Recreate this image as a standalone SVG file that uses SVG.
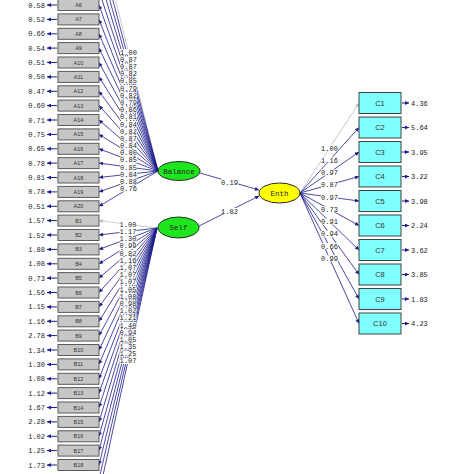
<svg xmlns="http://www.w3.org/2000/svg" width="474" height="474" viewBox="0 0 474 474">
<style>
.ob{fill:#c6c6c6;stroke:#5a5a5a;stroke-width:1}
.cb{fill:#80ffff;stroke:#404040;stroke-width:1}
.bl{font-family:"Liberation Sans",sans-serif;font-size:5.5px;fill:#333;text-anchor:middle}
.cl{font-family:"Liberation Sans",sans-serif;font-size:7.5px;fill:#333;text-anchor:middle}
.num{font-family:"Liberation Mono",monospace;font-size:7px;fill:#222}
.lat{font-family:"Liberation Mono",monospace;font-size:7.5px;fill:#222;text-anchor:middle}
.ln{stroke:#1c1c8c;stroke-width:0.8;fill:none;marker-end:url(#ah)}
.fx{stroke:#bdbdbd;stroke-width:0.8;fill:none;marker-end:url(#ahg)}
.er{stroke:#1c1c8c;stroke-width:1;fill:none;marker-end:url(#ah)}
.lb text{font-family:"Liberation Mono",monospace;font-size:7px;fill:#222;text-anchor:middle}
.lb rect{fill:#fff}
.ev{text-anchor:end}
</style>
<defs>
<marker id="ah" viewBox="0 0 10 10" refX="10" refY="5" markerWidth="5" markerHeight="4" markerUnits="userSpaceOnUse" orient="auto"><path d="M0,0 L10,5 L0,10 z" fill="#1c1c8c"/></marker>
<marker id="ahg" viewBox="0 0 10 10" refX="10" refY="5" markerWidth="5" markerHeight="4" markerUnits="userSpaceOnUse" orient="auto"><path d="M0,0 L10,5 L0,10 z" fill="#bdbdbd"/></marker>
</defs>
<rect width="474" height="474" fill="#fff"/>
<g id="connectors">
<line class="fx" x1="158" y1="171" x2="99" y2="-66.9"/>
<line class="ln" x1="158" y1="171" x2="99" y2="-52.5"/>
<line class="ln" x1="158" y1="171" x2="99" y2="-38.1"/>
<line class="ln" x1="158" y1="171" x2="99" y2="-23.8"/>
<line class="ln" x1="158" y1="171" x2="99" y2="-9.4"/>
<line class="ln" x1="158" y1="171" x2="99" y2="5"/>
<line class="ln" x1="158" y1="171" x2="99" y2="19.4"/>
<line class="ln" x1="158" y1="171" x2="99" y2="33.8"/>
<line class="ln" x1="158" y1="171" x2="99" y2="48.1"/>
<line class="ln" x1="158" y1="171" x2="99" y2="62.5"/>
<line class="ln" x1="158" y1="171" x2="99" y2="76.9"/>
<line class="ln" x1="158" y1="171" x2="99" y2="91.3"/>
<line class="ln" x1="158" y1="171" x2="99" y2="105.6"/>
<line class="ln" x1="158" y1="171" x2="99" y2="120"/>
<line class="ln" x1="158" y1="171" x2="99" y2="134.4"/>
<line class="ln" x1="158" y1="171" x2="99" y2="148.8"/>
<line class="ln" x1="158" y1="171" x2="99" y2="163.1"/>
<line class="ln" x1="158" y1="171" x2="99" y2="177.5"/>
<line class="ln" x1="158" y1="171" x2="99" y2="191.9"/>
<line class="ln" x1="158" y1="171" x2="99" y2="206.3"/>
<line class="fx" x1="157" y1="228" x2="99" y2="220.6"/>
<line class="ln" x1="157" y1="228" x2="99" y2="235"/>
<line class="ln" x1="157" y1="228" x2="99" y2="249.4"/>
<line class="ln" x1="157" y1="228" x2="99" y2="263.8"/>
<line class="ln" x1="157" y1="228" x2="99" y2="278.1"/>
<line class="ln" x1="157" y1="228" x2="99" y2="292.5"/>
<line class="ln" x1="157" y1="228" x2="99" y2="306.9"/>
<line class="ln" x1="157" y1="228" x2="99" y2="321.3"/>
<line class="ln" x1="157" y1="228" x2="99" y2="335.6"/>
<line class="ln" x1="157" y1="228" x2="99" y2="350"/>
<line class="ln" x1="157" y1="228" x2="99" y2="364.4"/>
<line class="ln" x1="157" y1="228" x2="99" y2="378.8"/>
<line class="ln" x1="157" y1="228" x2="99" y2="393.1"/>
<line class="ln" x1="157" y1="228" x2="99" y2="407.5"/>
<line class="ln" x1="157" y1="228" x2="99" y2="421.9"/>
<line class="ln" x1="157" y1="228" x2="99" y2="436.3"/>
<line class="ln" x1="157" y1="228" x2="99" y2="450.6"/>
<line class="ln" x1="157" y1="228" x2="99" y2="465"/>
<line class="ln" x1="157" y1="228" x2="99" y2="479.4"/>
<line class="ln" x1="157" y1="228" x2="99" y2="493.8"/>
<line class="ln" x1="200" y1="173" x2="259" y2="190"/>
<line class="ln" x1="199" y1="226" x2="259" y2="196"/>
<line class="fx" x1="300" y1="193" x2="359" y2="103"/>
<line class="ln" x1="300" y1="193" x2="359" y2="127.5"/>
<line class="ln" x1="300" y1="193" x2="359" y2="152"/>
<line class="ln" x1="300" y1="193" x2="359" y2="176.5"/>
<line class="ln" x1="300" y1="193" x2="359" y2="201"/>
<line class="ln" x1="300" y1="193" x2="359" y2="225.5"/>
<line class="ln" x1="300" y1="193" x2="359" y2="250"/>
<line class="ln" x1="300" y1="193" x2="359" y2="274.5"/>
<line class="ln" x1="300" y1="193" x2="359" y2="299"/>
<line class="ln" x1="300" y1="193" x2="359" y2="323.5"/>
<g id="error-arrows">
<line class="er" x1="57" y1="5" x2="47" y2="5"/>
<line class="er" x1="57" y1="19.4" x2="47" y2="19.4"/>
<line class="er" x1="57" y1="33.8" x2="47" y2="33.8"/>
<line class="er" x1="57" y1="48.1" x2="47" y2="48.1"/>
<line class="er" x1="57" y1="62.5" x2="47" y2="62.5"/>
<line class="er" x1="57" y1="76.9" x2="47" y2="76.9"/>
<line class="er" x1="57" y1="91.3" x2="47" y2="91.3"/>
<line class="er" x1="57" y1="105.6" x2="47" y2="105.6"/>
<line class="er" x1="57" y1="120" x2="47" y2="120"/>
<line class="er" x1="57" y1="134.4" x2="47" y2="134.4"/>
<line class="er" x1="57" y1="148.8" x2="47" y2="148.8"/>
<line class="er" x1="57" y1="163.1" x2="47" y2="163.1"/>
<line class="er" x1="57" y1="177.5" x2="47" y2="177.5"/>
<line class="er" x1="57" y1="191.9" x2="47" y2="191.9"/>
<line class="er" x1="57" y1="206.3" x2="47" y2="206.3"/>
<line class="er" x1="57" y1="220.6" x2="47" y2="220.6"/>
<line class="er" x1="57" y1="235" x2="47" y2="235"/>
<line class="er" x1="57" y1="249.4" x2="47" y2="249.4"/>
<line class="er" x1="57" y1="263.8" x2="47" y2="263.8"/>
<line class="er" x1="57" y1="278.1" x2="47" y2="278.1"/>
<line class="er" x1="57" y1="292.5" x2="47" y2="292.5"/>
<line class="er" x1="57" y1="306.9" x2="47" y2="306.9"/>
<line class="er" x1="57" y1="321.3" x2="47" y2="321.3"/>
<line class="er" x1="57" y1="335.6" x2="47" y2="335.6"/>
<line class="er" x1="57" y1="350" x2="47" y2="350"/>
<line class="er" x1="57" y1="364.4" x2="47" y2="364.4"/>
<line class="er" x1="57" y1="378.8" x2="47" y2="378.8"/>
<line class="er" x1="57" y1="393.1" x2="47" y2="393.1"/>
<line class="er" x1="57" y1="407.5" x2="47" y2="407.5"/>
<line class="er" x1="57" y1="421.9" x2="47" y2="421.9"/>
<line class="er" x1="57" y1="436.3" x2="47" y2="436.3"/>
<line class="er" x1="57" y1="450.6" x2="47" y2="450.6"/>
<line class="er" x1="57" y1="465" x2="47" y2="465"/>
<line class="er" x1="402" y1="103" x2="409" y2="103"/>
<line class="er" x1="402" y1="127.5" x2="409" y2="127.5"/>
<line class="er" x1="402" y1="152" x2="409" y2="152"/>
<line class="er" x1="402" y1="176.5" x2="409" y2="176.5"/>
<line class="er" x1="402" y1="201" x2="409" y2="201"/>
<line class="er" x1="402" y1="225.5" x2="409" y2="225.5"/>
<line class="er" x1="402" y1="250" x2="409" y2="250"/>
<line class="er" x1="402" y1="274.5" x2="409" y2="274.5"/>
<line class="er" x1="402" y1="299" x2="409" y2="299"/>
<line class="er" x1="402" y1="323.5" x2="409" y2="323.5"/>
</g>
<g class="lb" id="loading-labels">
<rect x="120" y="49.1" width="17" height="6"/><text x="128.5" y="54.6">1.00</text>
<rect x="120" y="56.3" width="17" height="6"/><text x="128.5" y="61.8">0.87</text>
<rect x="120" y="63.5" width="17" height="6"/><text x="128.5" y="69">0.87</text>
<rect x="120" y="70.6" width="17" height="6"/><text x="128.5" y="76.1">0.82</text>
<rect x="120" y="77.8" width="17" height="6"/><text x="128.5" y="83.3">0.85</text>
<rect x="120" y="85" width="17" height="6"/><text x="128.5" y="90.5">0.79</text>
<rect x="120" y="92.2" width="17" height="6"/><text x="128.5" y="97.7">0.82</text>
<rect x="120" y="99.4" width="17" height="6"/><text x="128.5" y="104.9">0.79</text>
<rect x="120" y="106.6" width="17" height="6"/><text x="128.5" y="112.1">0.86</text>
<rect x="120" y="113.8" width="17" height="6"/><text x="128.5" y="119.3">0.81</text>
<rect x="120" y="121" width="17" height="6"/><text x="128.5" y="126.5">0.84</text>
<rect x="120" y="128.1" width="17" height="6"/><text x="128.5" y="133.6">0.82</text>
<rect x="120" y="135.3" width="17" height="6"/><text x="128.5" y="140.8">0.87</text>
<rect x="120" y="142.5" width="17" height="6"/><text x="128.5" y="148">0.84</text>
<rect x="120" y="149.7" width="17" height="6"/><text x="128.5" y="155.2">0.80</text>
<rect x="120" y="156.9" width="17" height="6"/><text x="128.5" y="162.4">0.85</text>
<rect x="120" y="164.1" width="17" height="6"/><text x="128.5" y="169.6">0.85</text>
<rect x="120" y="171.3" width="17" height="6"/><text x="128.5" y="176.8">0.84</text>
<rect x="120" y="178.5" width="17" height="6"/><text x="128.5" y="184">0.88</text>
<rect x="120" y="185.6" width="17" height="6"/><text x="128.5" y="191.1">0.76</text>
<rect x="119.5" y="221.3" width="17" height="6"/><text x="128" y="226.8">1.00</text>
<rect x="119.5" y="228.5" width="17" height="6"/><text x="128" y="234">1.17</text>
<rect x="119.5" y="235.7" width="17" height="6"/><text x="128" y="241.2">1.30</text>
<rect x="119.5" y="242.9" width="17" height="6"/><text x="128" y="248.4">0.99</text>
<rect x="119.5" y="250.1" width="17" height="6"/><text x="128" y="255.6">0.82</text>
<rect x="119.5" y="257.3" width="17" height="6"/><text x="128" y="262.8">1.16</text>
<rect x="119.5" y="264.5" width="17" height="6"/><text x="128" y="270">1.07</text>
<rect x="119.5" y="271.7" width="17" height="6"/><text x="128" y="277.2">1.07</text>
<rect x="119.5" y="278.8" width="17" height="6"/><text x="128" y="284.3">1.07</text>
<rect x="119.5" y="286" width="17" height="6"/><text x="128" y="291.5">1.05</text>
<rect x="119.5" y="293.2" width="17" height="6"/><text x="128" y="298.7">1.08</text>
<rect x="119.5" y="300.4" width="17" height="6"/><text x="128" y="305.9">0.98</text>
<rect x="119.5" y="307.6" width="17" height="6"/><text x="128" y="313.1">1.02</text>
<rect x="119.5" y="314.8" width="17" height="6"/><text x="128" y="320.3">1.21</text>
<rect x="119.5" y="322" width="17" height="6"/><text x="128" y="327.5">1.40</text>
<rect x="119.5" y="329.2" width="17" height="6"/><text x="128" y="334.7">0.94</text>
<rect x="119.5" y="336.3" width="17" height="6"/><text x="128" y="341.8">1.05</text>
<rect x="119.5" y="343.5" width="17" height="6"/><text x="128" y="349">1.35</text>
<rect x="119.5" y="350.7" width="17" height="6"/><text x="128" y="356.2">1.25</text>
<rect x="119.5" y="357.9" width="17" height="6"/><text x="128" y="363.4">1.07</text>
<rect x="221" y="179" width="17" height="6"/><text x="229.5" y="184.5">0.19</text>
<rect x="221" y="208" width="17" height="6"/><text x="229.5" y="213.5">1.82</text>
<rect x="321" y="145" width="17" height="6"/><text x="329.5" y="150.5">1.00</text>
<rect x="321" y="157.3" width="17" height="6"/><text x="329.5" y="162.8">1.16</text>
<rect x="321" y="169.5" width="17" height="6"/><text x="329.5" y="175">0.97</text>
<rect x="321" y="181.8" width="17" height="6"/><text x="329.5" y="187.3">0.87</text>
<rect x="321" y="194" width="17" height="6"/><text x="329.5" y="199.5">0.97</text>
<rect x="321" y="206.3" width="17" height="6"/><text x="329.5" y="211.8">0.73</text>
<rect x="321" y="218.5" width="17" height="6"/><text x="329.5" y="224">0.91</text>
<rect x="321" y="230.8" width="17" height="6"/><text x="329.5" y="236.3">0.94</text>
<rect x="321" y="243" width="17" height="6"/><text x="329.5" y="248.5">0.66</text>
<rect x="321" y="255.3" width="17" height="6"/><text x="329.5" y="260.8">0.99</text>
</g>
</g>
<g id="A6"><rect class="ob" x="58" y="-0.5" width="41" height="11"/><text class="bl" x="78.5" y="7">A6</text><text class="num ev" x="45" y="7.5">0.58</text></g>
<g id="A7"><rect class="ob" x="58" y="13.9" width="41" height="11"/><text class="bl" x="78.5" y="21.4">A7</text><text class="num ev" x="45" y="21.9">0.52</text></g>
<g id="A8"><rect class="ob" x="58" y="28.3" width="41" height="11"/><text class="bl" x="78.5" y="35.8">A8</text><text class="num ev" x="45" y="36.3">0.66</text></g>
<g id="A9"><rect class="ob" x="58" y="42.6" width="41" height="11"/><text class="bl" x="78.5" y="50.1">A9</text><text class="num ev" x="45" y="50.6">0.54</text></g>
<g id="A10"><rect class="ob" x="58" y="57" width="41" height="11"/><text class="bl" x="78.5" y="64.5">A10</text><text class="num ev" x="45" y="65">0.51</text></g>
<g id="A11"><rect class="ob" x="58" y="71.4" width="41" height="11"/><text class="bl" x="78.5" y="78.9">A11</text><text class="num ev" x="45" y="79.4">0.50</text></g>
<g id="A12"><rect class="ob" x="58" y="85.8" width="41" height="11"/><text class="bl" x="78.5" y="93.3">A12</text><text class="num ev" x="45" y="93.8">0.47</text></g>
<g id="A13"><rect class="ob" x="58" y="100.1" width="41" height="11"/><text class="bl" x="78.5" y="107.6">A13</text><text class="num ev" x="45" y="108.1">0.60</text></g>
<g id="A14"><rect class="ob" x="58" y="114.5" width="41" height="11"/><text class="bl" x="78.5" y="122">A14</text><text class="num ev" x="45" y="122.5">0.71</text></g>
<g id="A15"><rect class="ob" x="58" y="128.9" width="41" height="11"/><text class="bl" x="78.5" y="136.4">A15</text><text class="num ev" x="45" y="136.9">0.75</text></g>
<g id="A16"><rect class="ob" x="58" y="143.3" width="41" height="11"/><text class="bl" x="78.5" y="150.8">A16</text><text class="num ev" x="45" y="151.3">0.65</text></g>
<g id="A17"><rect class="ob" x="58" y="157.6" width="41" height="11"/><text class="bl" x="78.5" y="165.1">A17</text><text class="num ev" x="45" y="165.6">0.78</text></g>
<g id="A18"><rect class="ob" x="58" y="172" width="41" height="11"/><text class="bl" x="78.5" y="179.5">A18</text><text class="num ev" x="45" y="180">0.81</text></g>
<g id="A19"><rect class="ob" x="58" y="186.4" width="41" height="11"/><text class="bl" x="78.5" y="193.9">A19</text><text class="num ev" x="45" y="194.4">0.78</text></g>
<g id="A20"><rect class="ob" x="58" y="200.8" width="41" height="11"/><text class="bl" x="78.5" y="208.3">A20</text><text class="num ev" x="45" y="208.8">0.51</text></g>
<g id="B1"><rect class="ob" x="58" y="215.1" width="41" height="11"/><text class="bl" x="78.5" y="222.6">B1</text><text class="num ev" x="45" y="223.1">1.57</text></g>
<g id="B2"><rect class="ob" x="58" y="229.5" width="41" height="11"/><text class="bl" x="78.5" y="237">B2</text><text class="num ev" x="45" y="237.5">1.52</text></g>
<g id="B3"><rect class="ob" x="58" y="243.9" width="41" height="11"/><text class="bl" x="78.5" y="251.4">B3</text><text class="num ev" x="45" y="251.9">1.88</text></g>
<g id="B4"><rect class="ob" x="58" y="258.3" width="41" height="11"/><text class="bl" x="78.5" y="265.8">B4</text><text class="num ev" x="45" y="266.3">1.08</text></g>
<g id="B5"><rect class="ob" x="58" y="272.6" width="41" height="11"/><text class="bl" x="78.5" y="280.1">B5</text><text class="num ev" x="45" y="280.6">0.73</text></g>
<g id="B6"><rect class="ob" x="58" y="287" width="41" height="11"/><text class="bl" x="78.5" y="294.5">B6</text><text class="num ev" x="45" y="295">1.56</text></g>
<g id="B7"><rect class="ob" x="58" y="301.4" width="41" height="11"/><text class="bl" x="78.5" y="308.9">B7</text><text class="num ev" x="45" y="309.4">1.15</text></g>
<g id="B8"><rect class="ob" x="58" y="315.8" width="41" height="11"/><text class="bl" x="78.5" y="323.3">B8</text><text class="num ev" x="45" y="323.8">1.16</text></g>
<g id="B9"><rect class="ob" x="58" y="330.1" width="41" height="11"/><text class="bl" x="78.5" y="337.6">B9</text><text class="num ev" x="45" y="338.1">2.78</text></g>
<g id="B10"><rect class="ob" x="58" y="344.5" width="41" height="11"/><text class="bl" x="78.5" y="352">B10</text><text class="num ev" x="45" y="352.5">1.34</text></g>
<g id="B11"><rect class="ob" x="58" y="358.9" width="41" height="11"/><text class="bl" x="78.5" y="366.4">B11</text><text class="num ev" x="45" y="366.9">1.30</text></g>
<g id="B12"><rect class="ob" x="58" y="373.3" width="41" height="11"/><text class="bl" x="78.5" y="380.8">B12</text><text class="num ev" x="45" y="381.3">1.08</text></g>
<g id="B13"><rect class="ob" x="58" y="387.6" width="41" height="11"/><text class="bl" x="78.5" y="395.1">B13</text><text class="num ev" x="45" y="395.6">1.12</text></g>
<g id="B14"><rect class="ob" x="58" y="402" width="41" height="11"/><text class="bl" x="78.5" y="409.5">B14</text><text class="num ev" x="45" y="410">1.67</text></g>
<g id="B15"><rect class="ob" x="58" y="416.4" width="41" height="11"/><text class="bl" x="78.5" y="423.9">B15</text><text class="num ev" x="45" y="424.4">2.28</text></g>
<g id="B16"><rect class="ob" x="58" y="430.8" width="41" height="11"/><text class="bl" x="78.5" y="438.3">B16</text><text class="num ev" x="45" y="438.8">1.02</text></g>
<g id="B17"><rect class="ob" x="58" y="445.1" width="41" height="11"/><text class="bl" x="78.5" y="452.6">B17</text><text class="num ev" x="45" y="453.1">1.25</text></g>
<g id="B18"><rect class="ob" x="58" y="459.5" width="41" height="11"/><text class="bl" x="78.5" y="467">B18</text><text class="num ev" x="45" y="467.5">1.73</text></g>
<g id="Balance"><ellipse cx="179" cy="171" rx="21" ry="9.5" fill="#1ee61e" stroke="#2a2a2a" stroke-width="1"/><text class="lat" x="179" y="173.5">Balance</text></g>
<g id="Self"><ellipse cx="178.5" cy="227.5" rx="20.5" ry="10.5" fill="#1ee61e" stroke="#2a2a2a" stroke-width="1"/><text class="lat" x="178.5" y="230">Self</text></g>
<g id="Enth"><ellipse cx="279.5" cy="193" rx="20.5" ry="10" fill="#ffff00" stroke="#2a2a2a" stroke-width="1"/><text class="lat" x="279.5" y="195.5">Enth</text></g>
<g id="C1"><rect class="cb" x="359" y="92.5" width="42" height="21"/><text class="cl" x="380" y="105.7">C1</text><text class="num" x="411" y="105.5">4.36</text></g>
<g id="C2"><rect class="cb" x="359" y="117" width="42" height="21"/><text class="cl" x="380" y="130.2">C2</text><text class="num" x="411" y="130">5.64</text></g>
<g id="C3"><rect class="cb" x="359" y="141.5" width="42" height="21"/><text class="cl" x="380" y="154.7">C3</text><text class="num" x="411" y="154.5">3.95</text></g>
<g id="C4"><rect class="cb" x="359" y="166" width="42" height="21"/><text class="cl" x="380" y="179.2">C4</text><text class="num" x="411" y="179">3.22</text></g>
<g id="C5"><rect class="cb" x="359" y="190.5" width="42" height="21"/><text class="cl" x="380" y="203.7">C5</text><text class="num" x="411" y="203.5">3.98</text></g>
<g id="C6"><rect class="cb" x="359" y="215" width="42" height="21"/><text class="cl" x="380" y="228.2">C6</text><text class="num" x="411" y="228">2.24</text></g>
<g id="C7"><rect class="cb" x="359" y="239.5" width="42" height="21"/><text class="cl" x="380" y="252.7">C7</text><text class="num" x="411" y="252.5">3.62</text></g>
<g id="C8"><rect class="cb" x="359" y="264" width="42" height="21"/><text class="cl" x="380" y="277.2">C8</text><text class="num" x="411" y="277">3.85</text></g>
<g id="C9"><rect class="cb" x="359" y="288.5" width="42" height="21"/><text class="cl" x="380" y="301.7">C9</text><text class="num" x="411" y="301.5">1.83</text></g>
<g id="C10"><rect class="cb" x="359" y="313" width="42" height="21"/><text class="cl" x="380" y="326.2">C10</text><text class="num" x="411" y="326">4.23</text></g>
</svg>
